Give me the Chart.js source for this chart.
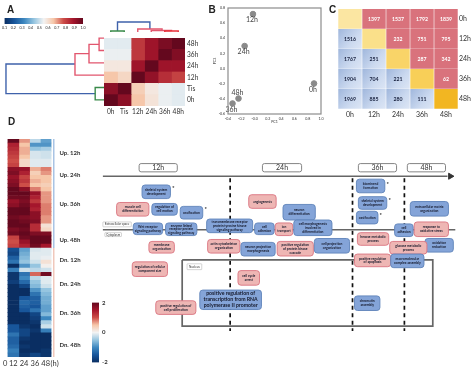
<!DOCTYPE html>
<html>
<head>
<meta charset="utf-8">
<script src="https://cdn.jsdelivr.net/npm/chart.js@4"></script>
<style>
  html, body { margin: 0; padding: 0; background: #fff; overflow: hidden; }
  canvas { position: absolute; filter: blur(.35px); }
</style>
</head>
<body>
<script>
// panel A: correlation heatmap
const corrCols = ['0h', 'Tis', '12h', '24h', '36h', '48h'];
const corrRows = ['48h', '36h', '24h', '12h', 'Tis', '0h'];
const corrVals = [
  [.53, .53, .82, .90, .96, 1.0],
  [.54, .54, .82, .90, 1.0, .95],
  [.58, .58, .90, 1.0, .90, .90],
  [.66, .62, 1.0, .92, .84, .80],
  [.93, 1.0, .64, .58, .54, .53],
  [1.0, .93, .66, .59, .54, .53]
];
const corrTicks = [.1, .2, .3, .4, .5, .6, .7, .8, .9, 1];
// dendrogram links: from, to, merge height, height of left child, height of right child, colour name
const rowLinks = [
  [.5, 1.5, .05, 0, 0, 'red'],
  [1, 2.5, .153, .05, 0, 'red'],
  [1.75, 3.5, .296, .153, 0, 'red'],
  [4.5, 5.5, .09, 0, 0, 'green'],
  [2.6, 5, 1, .296, .09, 'blue']
];
const colLinks = [
  [.5, 1.5, .01, 0, 0, 'green'],
  [4.5, 5.5, .01, 0, 0, 'bright'],
  [3.5, 5, .016, 0, .01, 'red'],
  [2.5, 4.3, .03, 0, .016, 'red'],
  [1, 3.4, .102, .01, .03, 'blue']
];

// panel B: PCA
const pcaNames = ['12h', '24h', '0h', '48h', '36h'];
const pcaX = [-.024, -.15, .895, -.242, -.332];
const pcaY = [.72, .298, -.197, -.395, -.461];
const pcaLabelDy = [6, 6, 6, -6, 6];

// panel C: DEG counts
const degNames = ['0h', '12h', '24h', '36h', '48h'];
const degVals = [
  [null, 1397, 1537, 1792, 1839],
  [1516, null, 232, 751, 795],
  [1767, 251, null, 287, 342],
  [1904, 704, 221, null, 62],
  [1969, 885, 280, 111, null]
];
const degDiagColors = ['#fbe6a2', '#fae08a', '#f9d468', '#f8cf58', '#f2b622'];

// panel D: expression clusters, columns 12 24 36 48
const exprHours = [12, 24, 36, 48];
const exprRows = [
  [2, .7, -.3, -.8], [1.4, .5, -.9, -.9], [1.3, .6, -.5, -.4], [1.2, .6, -.15, -.2],
  [1.1, .5, -.15, -.2], [1, .3, -.1, -.1], [1.1, .3, -.1, -.1], [1.7, 1.6, .6, .8],
  [1.8, 1.4, .4, .7], [1.6, 1.1, .5, .5], [1.7, 1.2, .6, .5], [1.8, 1, .5, .4],
  [2, 1.7, .8, .5], [2, 2, 1.6, .7], [1.9, 1.9, 1.4, .7], [1.6, 1.8, 1.2, .7],
  [1.7, 1.9, 1.5, .8], [2, 2, 1.4, .8], [2, 2, 1.7, .8], [1.9, 1.8, 1.7, .7],
  [2, 1.9, 1.8, .7], [2, 2, 1.3, .2], [1.8, 1.9, 1.3, .3], [1.9, 2, 1.8, 1.8],
  [1.1, 1.9, 2, 2], [1, 1.6, 2, 2], [1.1, 1.4, 1.9, 1.5],
  [-1.6, -.8, -.15, -.1], [-1.7, -.7, -.1, -.1], [-1.4, -.6, -.1, -.05], [-1.2, -.5, -.2, .2],
  [-2, -.9, -.5, .05], [-1.1, -.2, -.3, -.2], [-1.9, -1.2, .9, 1.9], [-1.9, -1, -.3, -.1],
  [-1.8, -1.3, -.5, -.1], [-2, -1.7, -.6, -.2], [-2, -2, -.9, -.5], [-2, -2, -1.2, -.6],
  [-2, -1.5, -1.4, -.7], [-2, -1.3, -1.4, -.7], [-2, -1.4, -1.5, -.8], [-2, -1.5, -1.2, -.8],
  [-2, -2, -1.7, -.6], [-2, -2, -1.8, -1], [-2, -2, -1.9, -.4], [-1.5, -1.9, -2, -.2],
  [-1.5, -1.7, -1.9, -1.1], [-1.2, -1.7, -2, -2], [-1.4, -1.9, -2, -2], [-1.4, -2, -2, -2],
  [-1.3, -1.9, -2, -2], [-1.1, -2, -2, -1.9], [-1.2, -1.9, -1.7, -1.9]
];
const exprUpRows = 27;
const groupNames = ['Up. 12h', 'Up. 24h', 'Up. 36h', 'Up. 48h', 'Dn. 12h', 'Dn. 24h', 'Dn. 36h', 'Dn. 48h'];
const groupRows = [3.5, 9, 16, 25, 30, 36, 43, 51];
const hourTicks = [3, 12, 24, 36, 48, 58];
const hourLabels = ['0', '12', '24', '36', '48', '(h)'];

// panel E: GO terms along the time course
const timeNames = ['12h', '24h', '36h', '48h'];
const termNames = [
  'skeletal system\ndevelopment', 'muscle cell\ndifferentiation', 'regulation of\ncell motion', 'ossification',
  'Wnt receptor\nsignaling pathway', 'enzyme linked\nreceptor protein\nsignaling pathway',
  'transmembrane receptor\nprotein tyrosine kinase\nsignaling pathway', 'cell\nadhesion', 'ion\ntransport', 'angiogenesis',
  'neuron\ndifferentiation', 'cell morphogenesis\ninvolved in\ndifferentiation', 'membrane\norganization',
  'actin cytoskeleton\norganization', 'neuron projection\nmorphogenesis', 'positive regulation\nof protein kinase\ncascade',
  'cell projection\norganization', 'regulation of cellular\ncomponent size', 'positive regulation of\ncell proliferation',
  'cell cycle\narrest', 'positive regulation of\ntranscription from RNA\npolymerase II promoter',
  'biomineral\nformation', 'skeletal system\ndevelopment', 'ossification', 'extracellular matrix\norganization',
  'cell\nadhesion', 'response to\noxidative stress', 'hexose metabolic\nprocess', 'oxidation\nreduction',
  'glucose metabolic\nprocess', 'positive regulation\nof apoptosis', 'macromolecular\ncomplex assembly', 'chromatin\nassembly'
];
const termKinds = ['b', 'p', 'b', 'b', 'b', 'b', 'b', 'b', 'p', 'p', 'b', 'b', 'p', 'p', 'b', 'p', 'b', 'p', 'p', 'p', 'b',
  'b', 'b', 'b', 'b', 'b', 'p', 'p', 'b', 'p', 'p', 'b', 'b'];

// layout of the diagram, in page pixels
const termBoxes = [
  [140, 185, 169, 199], [114, 203, 147, 217], [150, 204, 176, 216], [179, 207, 202, 220],
  [131, 224, 161, 236], [164, 224, 196, 237], [206, 220, 253, 234], [255, 224, 275, 236],
  [276, 224, 294, 237], [249, 195, 277, 209], [284, 205, 317, 221], [295, 221, 334, 237],
  [147, 243, 173, 255], [207, 241, 240, 255], [241, 244, 276, 258], [278, 243, 315, 258],
  [316, 240, 352, 255], [130, 264, 166, 279], [154, 304, 195, 318], [238, 273, 260, 288],
  [199, 293, 262, 313], [359, 179, 388, 193], [361, 197, 390, 210], [359, 212, 381, 225],
  [414, 202, 453, 217], [398, 225, 417, 238], [418, 223, 453, 238], [360, 234, 392, 247],
  [429, 240, 458, 254], [393, 243, 431, 256], [357, 256, 394, 269], [394, 256, 428, 270],
  [357, 299, 383, 314]
];
const timeBoxes = [[137, 163, 176, 171.5], [263, 163, 303, 171.5], [361, 163, 400, 171.5], [411, 163, 450, 171.5]];
const starSpots = [[172, 188], [205, 210], [391, 184], [393, 200], [384, 216]];
const dashedX = [230, 355, 408];
const panelNames = ['A', 'B', 'C', 'D'];
const panelSpots = [[2, 8], [208, 8], [331, 8], [3, 123]];
const tagBoxes = [['Extracellular space', 100, 223, 129, 228], ['Cytoplasm', 102, 234, 119, 238], ['Nucleus', 186, 266, 201, 272]];

const fontName = 'Lato, "Open Sans", sans-serif';
Chart.defaults.font.family = fontName;
Chart.defaults.animation = false;
Chart.defaults.responsive = false;
Chart.defaults.plugins.legend.display = false;
Chart.defaults.plugins.tooltip.enabled = false;

const linkColors = { red: '#e2566e', green: '#3a8a4a', blue: '#3f62ab', bright: '#e8303a' };
const rampStops = [
  [-2, [10, 46, 98]], [-1.5, [24, 86, 155]], [-1, [62, 136, 192]], [-.5, [150, 197, 224]], [0, [243, 243, 243]],
  [.5, [246, 198, 168]], [1, [205, 78, 72]], [1.5, [165, 22, 44]], [2, [100, 8, 30]]
];

function ramp(z) {
  z = Math.max(-2, Math.min(2, z));
  for (let i = 1; i < rampStops.length; i++) {
    if (z <= rampStops[i][0]) {
      const a = rampStops[i - 1], b = rampStops[i];
      const t = (z - a[0]) / (b[0] - a[0]);
      const c = a[1].map((v, k) => Math.round(v + (b[1][k] - v) * t));
      return 'rgb(' + c.join(',') + ')';
    }
  }
  return 'rgb(100,8,30)';
}
const corrColor = v => ramp((v - .55) / .45 * 2);

function mk(left, top, w, h, cfg) {
  const cv = document.createElement('canvas');
  cv.width = w;
  cv.height = h;
  cv.style.left = left + 'px';
  cv.style.top = top + 'px';
  cv.style.width = w + 'px';
  cv.style.height = h + 'px';
  document.body.appendChild(cv);
  return new Chart(cv.getContext('2d'), cfg);
}

// axis on a linear scale that only shows the ticks we list
function listAxis(positions, labels, extra) {
  return Object.assign({
    type: 'linear',
    offset: false,
    grid: { display: false, offset: false, drawTicks: false },
    border: { display: false },
    afterBuildTicks: s => { s.ticks = positions.map(v => ({ value: v })); }
  }, extra, {
    ticks: Object.assign({
      autoSkip: false, maxRotation: 0, minRotation: 0,
      callback: (v, i) => labels[i]
    }, extra.ticks)
  });
}
const hidden = (min, max, reverse) => ({ type: 'linear', min: min, max: max, reverse: !!reverse, display: false });

function line(points, color, width, dash) {
  return {
    type: 'scatter', showLine: true, data: points, borderColor: color, borderWidth: width,
    borderDash: dash || [], pointRadius: 0, fill: false, tension: 0
  };
}

// ---- A: heatmap
mk(104, 32, 104, 90, {
  type: 'bar',
  data: {
    datasets: corrCols.map((name, c) => ({
      grouped: false, barThickness: 13.6,
      data: corrVals.map((r, i) => ({ x: c + .5, y: [i, i + 1] })),
      backgroundColor: corrVals.map(r => corrColor(r[c]))
    })).concat([
      line([{ x: 2, y: 0 }, { x: 2, y: 6 }], '#fff', 1),
      line([{ x: 0, y: 4 }, { x: 6, y: 4 }], '#fff', 1)
    ])
  },
  options: {
    layout: { padding: 0 },
    scales: {
      x: listAxis([.5, 1.5, 2.5, 3.5, 4.5, 5.5], corrCols, {
        min: 0, max: 6, afterFit: s => { s.height = 16; },
        ticks: { font: { size: 6.6 }, color: '#333', padding: 2 }
      }),
      y: listAxis([.5, 1.5, 2.5, 3.5, 4.5, 5.5], corrRows, {
        min: 0, max: 6, reverse: true, position: 'right', afterFit: s => { s.width = 23; },
        ticks: { font: { size: 6.6 }, color: '#333', padding: 2 }
      })
    }
  }
});

// dendrograms
function rowLinkData(l) {
  return line([{ x: l[3], y: l[0] }, { x: l[2], y: l[0] }, { x: l[2], y: l[1] }, { x: l[4], y: l[1] }], linkColors[l[5]], 1.4);
}
function colLinkData(l) {
  return line([{ x: l[0], y: l[3] }, { x: l[0], y: l[2] }, { x: l[1], y: l[2] }, { x: l[1], y: l[4] }], linkColors[l[5]], 1.4);
}
mk(0, 32, 104, 74, {
  type: 'scatter',
  data: { datasets: rowLinks.map(rowLinkData) },
  options: { scales: { x: hidden(0, 1.061, true), y: hidden(0, 6, true) } }
});
mk(104, 14, 81, 18, {
  type: 'scatter',
  data: { datasets: colLinks.map(colLinkData) },
  options: { scales: { x: hidden(0, 6), y: hidden(0, .184) } }
});

// colour bar of A
function gradientFill(ctx, horizontal, colorAt) {
  const area = ctx.chart.chartArea;
  if (!area) return '#ccc';
  const g = horizontal
    ? ctx.chart.ctx.createLinearGradient(area.left, 0, area.right, 0)
    : ctx.chart.ctx.createLinearGradient(0, area.bottom, 0, area.top);
  for (let i = 0; i <= 8; i++) g.addColorStop(i / 8, colorAt(i / 8));
  return g;
}
mk(0, 16, 88, 16, {
  type: 'bar',
  data: {
    labels: [''],
    datasets: [{
      data: [[.1, 1]], barPercentage: 1, categoryPercentage: 1,
      backgroundColor: ctx => gradientFill(ctx, true, t => ramp(t * 4 - 2))
    }]
  },
  options: {
    indexAxis: 'y',
    layout: { padding: { left: 4, right: 5, top: 2 } },
    scales: {
      y: { display: false },
      x: listAxis(corrTicks, corrTicks.map(v => v.toFixed(1)), {
        min: .1, max: 1, afterFit: s => { s.height = 8; },
        ticks: { font: { size: 3.6 }, color: '#222', padding: 2 }
      })
    }
  }
});

// ---- B: PCA scatter
const frame = {
  id: 'frame',
  afterDraw(chart) {
    const a = chart.chartArea, c = chart.ctx;
    c.save();
    c.strokeStyle = '#8c8c8c';
    c.lineWidth = 1.2;
    c.strokeRect(a.left, a.top, a.width, a.height);
    c.restore();
  }
};
const pointNames = {
  id: 'pointNames',
  afterDatasetsDraw(chart) {
    const c = chart.ctx;
    c.save();
    c.font = '7px ' + fontName;
    c.fillStyle = '#444';
    c.textAlign = 'center';
    c.textBaseline = 'middle';
    pcaNames.forEach((n, i) => {
      c.fillText(n, chart.scales.x.getPixelForValue(pcaX[i]) - 1, chart.scales.y.getPixelForValue(pcaY[i]) + pcaLabelDy[i]);
    });
    c.restore();
  }
};
const smallTick = { font: { size: 3.6 }, color: '#333', padding: 1, callback: v => v.toFixed(1) };
mk(212, 0, 118, 125, {
  type: 'scatter',
  data: {
    datasets: [{
      data: pcaX.map((x, i) => ({ x: x, y: pcaY[i] })),
      backgroundColor: '#8a8a8a', borderColor: '#8a8a8a', pointRadius: 2.8
    }]
  },
  plugins: [frame, pointNames],
  options: {
    layout: { padding: { top: 8, right: 9 } },
    scales: {
      x: {
        min: -.4, max: 1, grid: { display: false, tickLength: 2, tickColor: '#888' }, border: { display: false },
        ticks: Object.assign({ stepSize: .2 }, smallTick),
        title: { display: true, text: 'PC1', font: { size: 3.6 }, color: '#333', padding: 1 },
        afterFit: s => { s.height = 11; }
      },
      y: {
        min: -.6, max: .8, grid: { display: false, tickLength: 2, tickColor: '#888' }, border: { display: false },
        ticks: Object.assign({ stepSize: .2 }, smallTick),
        title: { display: true, text: 'PC2', font: { size: 3.6 }, color: '#333', padding: 1 },
        afterFit: s => { s.width = 16; }
      }
    }
  }
});

// ---- C: count matrix
const degText = {
  id: 'degText',
  afterDatasetsDraw(chart) {
    const c = chart.ctx;
    c.save();
    c.font = 'bold 5.2px ' + fontName;
    c.textAlign = 'center';
    c.textBaseline = 'middle';
    degVals.forEach((row, r) => row.forEach((v, k) => {
      if (v === null) return;
      c.fillStyle = k > r ? '#fff' : '#1a2340';
      c.fillText(v, chart.scales.x.getPixelForValue(k + .5), chart.scales.y.getPixelForValue(r + .5));
    }));
    c.restore();
  }
};
function degColor(ctx, k) {
  if (ctx.dataIndex === undefined) return '#ccc';
  const r = ctx.dataIndex;
  if (r === k) return degDiagColors[r];
  if (k > r) return '#d9727c';
  const sx = ctx.chart.scales.x, sy = ctx.chart.scales.y;
  const g = ctx.chart.ctx.createLinearGradient(sx.getPixelForValue(k), sy.getPixelForValue(r), sx.getPixelForValue(k + 1), sy.getPixelForValue(r + 1));
  g.addColorStop(0, '#9fb6dc');
  g.addColorStop(.6, '#cbd9ef');
  g.addColorStop(1, '#dde6f5');
  return g;
}
mk(330, 0, 144, 125, {
  type: 'bar',
  data: {
    datasets: degNames.map((n, k) => ({
      grouped: false, barThickness: 24,
      data: degNames.map((m, r) => ({ x: k + .5, y: [r, r + 1] })),
      backgroundColor: ctx => degColor(ctx, k),
      borderColor: 'rgba(255,255,255,.55)', borderWidth: .6
    }))
  },
  plugins: [degText],
  options: {
    layout: { padding: { left: 8, top: 9 } },
    scales: {
      x: listAxis([.5, 1.5, 2.5, 3.5, 4.5], degNames, {
        min: 0, max: 5, afterFit: s => { s.height = 16; },
        ticks: { font: { size: 7 }, color: '#333', padding: 2 }
      }),
      y: listAxis([.5, 1.5, 2.5, 3.5, 4.5], degNames, {
        min: 0, max: 5, reverse: true, position: 'right', afterFit: s => { s.width = 16; },
        ticks: { font: { size: 7 }, color: '#333', padding: 1 }
      })
    }
  }
});

// ---- D: heatmap of clusters
const nRows = exprRows.length;
mk(0, 130, 92, 239, {
  type: 'bar',
  data: {
    datasets: exprHours.map((h, c) => ({
      grouped: false, barThickness: 10.9,
      data: exprRows.map((r, i) => ({ x: h, y: [i, i + 1] })),
      backgroundColor: exprRows.map(r => ramp(r[c]))
    })).concat([
      line([{ x: 57, y: 0 }, { x: 57, y: exprUpRows }], '#a9c4e4', 1),
      line([{ x: 57, y: exprUpRows }, { x: 57, y: nRows }], '#f0c8bc', 1)
    ])
  },
  options: {
    layout: { padding: { left: 2.6, top: 9 } },
    scales: {
      x: listAxis(hourTicks, hourLabels, {
        min: 0, max: 60, afterFit: s => { s.height = 12; },
        ticks: { font: { size: 7.5 }, color: '#333', padding: 2 }
      }),
      y: listAxis(groupRows, groupNames, {
        min: 0, max: nRows, reverse: true, position: 'right', afterFit: s => { s.width = 35.6; },
        ticks: { font: { size: 6, weight: 'bold' }, color: '#333', padding: 3 }
      })
    }
  }
});

// colour bar of D
mk(92, 296, 20, 73, {
  type: 'bar',
  data: {
    labels: [''],
    datasets: [{
      data: [[-2, 2]], barPercentage: 1, categoryPercentage: 1,
      backgroundColor: ctx => gradientFill(ctx, false, t => ramp(t * 4 - 2))
    }]
  },
  options: {
    layout: { padding: { top: 6, bottom: 3 } },
    scales: {
      x: { display: false },
      y: listAxis([-2, 0, 2], ['-2', '0', '2'], {
        min: -2, max: 2, position: 'right', afterFit: s => { s.width = 13; },
        ticks: { font: { size: 6, weight: 'bold' }, color: '#333', padding: 3 }
      })
    }
  }
});

// ---- E: diagram drawn over the whole page
function box(c, sx, sy, b, radius) {
  const x = sx.getPixelForValue(b[0]), y = sy.getPixelForValue(b[1]);
  const w = sx.getPixelForValue(b[2]) - x, h = sy.getPixelForValue(b[3]) - y;
  c.beginPath();
  c.roundRect(x, y, w, h, radius);
  c.fill();
  c.stroke();
  return [x + w / 2, y + h / 2];
}
const diagram = {
  id: 'diagram',
  afterDatasetsDraw(chart) {
    const c = chart.ctx, sx = chart.scales.x, sy = chart.scales.y;
    c.save();
    c.textAlign = 'center';
    c.textBaseline = 'middle';
    // time labels
    timeNames.forEach((n, i) => {
      c.fillStyle = '#fff';
      c.strokeStyle = '#777';
      c.lineWidth = .9;
      const m = box(c, sx, sy, timeBoxes[i], 2);
      c.fillStyle = '#333';
      c.font = '7px ' + fontName;
      c.fillText(n, m[0], m[1] + .3);
    });
    // compartment tags
    tagBoxes.forEach(t => {
      c.fillStyle = '#fff';
      c.strokeStyle = '#aaa';
      c.lineWidth = .5;
      const m = box(c, sx, sy, t.slice(1), .5);
      c.fillStyle = '#333';
      c.font = '3px ' + fontName;
      c.fillText(t[0], m[0], m[1]);
    });
    // GO terms
    termNames.forEach((n, i) => {
      const isBig = n.indexOf('transcription') >= 0;
      c.fillStyle = termKinds[i] === 'b' ? '#84a4d8' : '#eeb6b4';
      c.strokeStyle = termKinds[i] === 'b' ? '#5f83ba' : '#da7480';
      c.lineWidth = .9;
      const m = box(c, sx, sy, termBoxes[i], 3);
      const size = isBig ? 5.2 : 3.3;
      const parts = n.split('\n');
      c.fillStyle = '#15192b';
      c.font = 'bold ' + size + 'px ' + fontName;
      parts.forEach((p, k) => c.fillText(p, m[0], m[1] + (k - (parts.length - 1) / 2) * size * 1.15));
    });
    c.fillStyle = '#222';
    c.font = 'bold 6px ' + fontName;
    starSpots.forEach(s => c.fillText('*', sx.getPixelForValue(s[0]), sy.getPixelForValue(s[1])));
    // panel letters
    c.textAlign = 'left';
    c.textBaseline = 'alphabetic';
    c.font = 'bold 10px "Liberation Sans", sans-serif';
    panelNames.forEach((n, i) => c.fillText(n, sx.getPixelForValue(panelSpots[i][0]), sy.getPixelForValue(panelSpots[i][1])));
    c.restore();
  }
};
mk(0, 0, 474, 369, {
  type: 'scatter',
  data: {
    datasets: [
      line([{ x: 100, y: 176 }, { x: 452, y: 176 }], '#666', 1.4),
      Object.assign(line([{ x: 455, y: 176 }], '#333', 1), { pointRadius: 3.5, pointStyle: 'triangle', rotation: 90, backgroundColor: '#333', showLine: false }),
      line([{ x: 100, y: 231 }, { x: 460, y: 231 }], '#666', 1.6),
      line([{ x: 181, y: 262 }, { x: 437, y: 262 }, { x: 437, y: 330 }, { x: 181, y: 330 }, { x: 181, y: 262 }], '#666', 1.7)
    ].concat(dashedX.map(x => line([{ x: x, y: 178 }, { x: x, y: 335 }], '#111', 1.7, [4, 3.5])))
  },
  plugins: [diagram],
  options: { scales: { x: hidden(0, 474), y: hidden(0, 369, true) } }
});
</script>
</body>
</html>
